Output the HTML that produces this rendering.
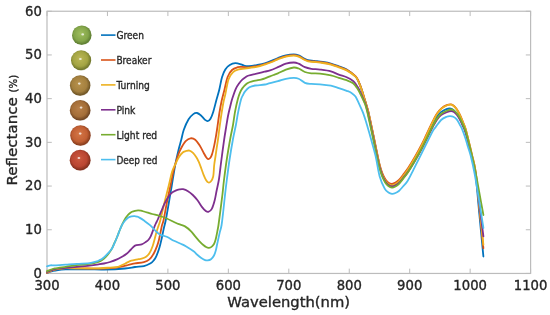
<!DOCTYPE html>
<html><head><meta charset="utf-8"><style>
html,body{margin:0;padding:0;background:#fff;width:550px;height:315px;overflow:hidden}
svg{display:block}
</style></head><body>
<svg width="550" height="315" viewBox="0 0 550 315">
<defs><radialGradient id="t0" cx="0.47" cy="0.45" r="0.56" fx="0.44" fy="0.4"><stop offset="0" stop-color="#9fbe5e"/><stop offset="0.65" stop-color="#84a64a"/><stop offset="0.92" stop-color="#5e7e32"/><stop offset="1" stop-color="#5e7e32" stop-opacity="0.6"/></radialGradient><radialGradient id="t1" cx="0.47" cy="0.45" r="0.56" fx="0.44" fy="0.4"><stop offset="0" stop-color="#bcb858"/><stop offset="0.65" stop-color="#a3a442"/><stop offset="0.92" stop-color="#72782c"/><stop offset="1" stop-color="#72782c" stop-opacity="0.6"/></radialGradient><radialGradient id="t2" cx="0.47" cy="0.45" r="0.56" fx="0.44" fy="0.4"><stop offset="0" stop-color="#b8924c"/><stop offset="0.65" stop-color="#a4803f"/><stop offset="0.92" stop-color="#705626"/><stop offset="1" stop-color="#705626" stop-opacity="0.6"/></radialGradient><radialGradient id="t3" cx="0.47" cy="0.45" r="0.56" fx="0.44" fy="0.4"><stop offset="0" stop-color="#b8804a"/><stop offset="0.65" stop-color="#a46e38"/><stop offset="0.92" stop-color="#704624"/><stop offset="1" stop-color="#704624" stop-opacity="0.6"/></radialGradient><radialGradient id="t4" cx="0.47" cy="0.45" r="0.56" fx="0.44" fy="0.4"><stop offset="0" stop-color="#d47646"/><stop offset="0.65" stop-color="#c26034"/><stop offset="0.92" stop-color="#8a3e1e"/><stop offset="1" stop-color="#8a3e1e" stop-opacity="0.6"/></radialGradient><radialGradient id="t5" cx="0.47" cy="0.45" r="0.56" fx="0.44" fy="0.4"><stop offset="0" stop-color="#cc5a40"/><stop offset="0.65" stop-color="#ba4632"/><stop offset="0.92" stop-color="#82301e"/><stop offset="1" stop-color="#82301e" stop-opacity="0.6"/></radialGradient><filter id="bl2" x="-0.3" y="-0.3" width="1.6" height="1.6"><feGaussianBlur stdDeviation="0.45"/></filter></defs>
<rect width="550" height="315" fill="#fff"/>
<rect x="47.00" y="11.25" width="483.60" height="262.20" fill="none" stroke="#bcbcbc" stroke-width="1.2"/>
<line x1="47.00" y1="273.45" x2="47.00" y2="268.65" stroke="#bcbcbc" stroke-width="1"/>
<line x1="47.00" y1="11.25" x2="47.00" y2="16.05" stroke="#bcbcbc" stroke-width="1"/>
<line x1="107.45" y1="273.45" x2="107.45" y2="268.65" stroke="#bcbcbc" stroke-width="1"/>
<line x1="107.45" y1="11.25" x2="107.45" y2="16.05" stroke="#bcbcbc" stroke-width="1"/>
<line x1="167.90" y1="273.45" x2="167.90" y2="268.65" stroke="#bcbcbc" stroke-width="1"/>
<line x1="167.90" y1="11.25" x2="167.90" y2="16.05" stroke="#bcbcbc" stroke-width="1"/>
<line x1="228.35" y1="273.45" x2="228.35" y2="268.65" stroke="#bcbcbc" stroke-width="1"/>
<line x1="228.35" y1="11.25" x2="228.35" y2="16.05" stroke="#bcbcbc" stroke-width="1"/>
<line x1="288.80" y1="273.45" x2="288.80" y2="268.65" stroke="#bcbcbc" stroke-width="1"/>
<line x1="288.80" y1="11.25" x2="288.80" y2="16.05" stroke="#bcbcbc" stroke-width="1"/>
<line x1="349.25" y1="273.45" x2="349.25" y2="268.65" stroke="#bcbcbc" stroke-width="1"/>
<line x1="349.25" y1="11.25" x2="349.25" y2="16.05" stroke="#bcbcbc" stroke-width="1"/>
<line x1="409.70" y1="273.45" x2="409.70" y2="268.65" stroke="#bcbcbc" stroke-width="1"/>
<line x1="409.70" y1="11.25" x2="409.70" y2="16.05" stroke="#bcbcbc" stroke-width="1"/>
<line x1="470.15" y1="273.45" x2="470.15" y2="268.65" stroke="#bcbcbc" stroke-width="1"/>
<line x1="470.15" y1="11.25" x2="470.15" y2="16.05" stroke="#bcbcbc" stroke-width="1"/>
<line x1="530.60" y1="273.45" x2="530.60" y2="268.65" stroke="#bcbcbc" stroke-width="1"/>
<line x1="530.60" y1="11.25" x2="530.60" y2="16.05" stroke="#bcbcbc" stroke-width="1"/>
<line x1="47.00" y1="273.45" x2="51.80" y2="273.45" stroke="#bcbcbc" stroke-width="1"/>
<line x1="530.60" y1="273.45" x2="525.80" y2="273.45" stroke="#bcbcbc" stroke-width="1"/>
<line x1="47.00" y1="229.75" x2="51.80" y2="229.75" stroke="#bcbcbc" stroke-width="1"/>
<line x1="530.60" y1="229.75" x2="525.80" y2="229.75" stroke="#bcbcbc" stroke-width="1"/>
<line x1="47.00" y1="186.05" x2="51.80" y2="186.05" stroke="#bcbcbc" stroke-width="1"/>
<line x1="530.60" y1="186.05" x2="525.80" y2="186.05" stroke="#bcbcbc" stroke-width="1"/>
<line x1="47.00" y1="142.35" x2="51.80" y2="142.35" stroke="#bcbcbc" stroke-width="1"/>
<line x1="530.60" y1="142.35" x2="525.80" y2="142.35" stroke="#bcbcbc" stroke-width="1"/>
<line x1="47.00" y1="98.65" x2="51.80" y2="98.65" stroke="#bcbcbc" stroke-width="1"/>
<line x1="530.60" y1="98.65" x2="525.80" y2="98.65" stroke="#bcbcbc" stroke-width="1"/>
<line x1="47.00" y1="54.95" x2="51.80" y2="54.95" stroke="#bcbcbc" stroke-width="1"/>
<line x1="530.60" y1="54.95" x2="525.80" y2="54.95" stroke="#bcbcbc" stroke-width="1"/>
<line x1="47.00" y1="11.25" x2="51.80" y2="11.25" stroke="#bcbcbc" stroke-width="1"/>
<line x1="530.60" y1="11.25" x2="525.80" y2="11.25" stroke="#bcbcbc" stroke-width="1"/>
<text x="47.00" y="289.70" font-family="DejaVu Sans, sans-serif" stroke="#262626" stroke-width="0.35" font-size="13.6" fill="#262626" text-anchor="middle" textLength="25.20" lengthAdjust="spacingAndGlyphs">300</text>
<text x="107.45" y="289.70" font-family="DejaVu Sans, sans-serif" stroke="#262626" stroke-width="0.35" font-size="13.6" fill="#262626" text-anchor="middle" textLength="25.20" lengthAdjust="spacingAndGlyphs">400</text>
<text x="167.90" y="289.70" font-family="DejaVu Sans, sans-serif" stroke="#262626" stroke-width="0.35" font-size="13.6" fill="#262626" text-anchor="middle" textLength="25.20" lengthAdjust="spacingAndGlyphs">500</text>
<text x="228.35" y="289.70" font-family="DejaVu Sans, sans-serif" stroke="#262626" stroke-width="0.35" font-size="13.6" fill="#262626" text-anchor="middle" textLength="25.20" lengthAdjust="spacingAndGlyphs">600</text>
<text x="288.80" y="289.70" font-family="DejaVu Sans, sans-serif" stroke="#262626" stroke-width="0.35" font-size="13.6" fill="#262626" text-anchor="middle" textLength="25.20" lengthAdjust="spacingAndGlyphs">700</text>
<text x="349.25" y="289.70" font-family="DejaVu Sans, sans-serif" stroke="#262626" stroke-width="0.35" font-size="13.6" fill="#262626" text-anchor="middle" textLength="25.20" lengthAdjust="spacingAndGlyphs">800</text>
<text x="409.70" y="289.70" font-family="DejaVu Sans, sans-serif" stroke="#262626" stroke-width="0.35" font-size="13.6" fill="#262626" text-anchor="middle" textLength="25.20" lengthAdjust="spacingAndGlyphs">900</text>
<text x="470.15" y="289.70" font-family="DejaVu Sans, sans-serif" stroke="#262626" stroke-width="0.35" font-size="13.6" fill="#262626" text-anchor="middle" textLength="33.60" lengthAdjust="spacingAndGlyphs">1000</text>
<text x="530.60" y="289.70" font-family="DejaVu Sans, sans-serif" stroke="#262626" stroke-width="0.35" font-size="13.6" fill="#262626" text-anchor="middle" textLength="33.60" lengthAdjust="spacingAndGlyphs">1100</text>
<text x="41.90" y="277.85" font-family="DejaVu Sans, sans-serif" stroke="#262626" stroke-width="0.35" font-size="13.6" fill="#262626" text-anchor="end" textLength="8.40" lengthAdjust="spacingAndGlyphs">0</text>
<text x="41.90" y="234.15" font-family="DejaVu Sans, sans-serif" stroke="#262626" stroke-width="0.35" font-size="13.6" fill="#262626" text-anchor="end" textLength="16.80" lengthAdjust="spacingAndGlyphs">10</text>
<text x="41.90" y="190.45" font-family="DejaVu Sans, sans-serif" stroke="#262626" stroke-width="0.35" font-size="13.6" fill="#262626" text-anchor="end" textLength="16.80" lengthAdjust="spacingAndGlyphs">20</text>
<text x="41.90" y="146.75" font-family="DejaVu Sans, sans-serif" stroke="#262626" stroke-width="0.35" font-size="13.6" fill="#262626" text-anchor="end" textLength="16.80" lengthAdjust="spacingAndGlyphs">30</text>
<text x="41.90" y="103.05" font-family="DejaVu Sans, sans-serif" stroke="#262626" stroke-width="0.35" font-size="13.6" fill="#262626" text-anchor="end" textLength="16.80" lengthAdjust="spacingAndGlyphs">40</text>
<text x="41.90" y="59.35" font-family="DejaVu Sans, sans-serif" stroke="#262626" stroke-width="0.35" font-size="13.6" fill="#262626" text-anchor="end" textLength="16.80" lengthAdjust="spacingAndGlyphs">50</text>
<text x="41.90" y="15.65" font-family="DejaVu Sans, sans-serif" stroke="#262626" stroke-width="0.35" font-size="13.6" fill="#262626" text-anchor="end" textLength="16.80" lengthAdjust="spacingAndGlyphs">60</text>
<text x="227.30" y="307.40" font-family="DejaVu Sans, sans-serif" stroke="#262626" stroke-width="0.35" font-size="14.5" fill="#262626" textLength="122.80" lengthAdjust="spacingAndGlyphs">Wavelength(nm)</text>
<text transform="translate(17.20,185.60) rotate(-90)" font-family="DejaVu Sans, sans-serif" stroke="#262626" stroke-width="0.35" font-size="14.5" fill="#262626"><tspan textLength="88.5" lengthAdjust="spacingAndGlyphs">Reflectance</tspan> <tspan font-size="10.2">(%)</tspan></text>
<path d="M47.00 273.00 C47.67 272.75 49.67 271.90 51.00 271.50 C52.33 271.10 52.53 270.95 55.00 270.60 C57.47 270.25 60.37 269.62 65.80 269.40 C71.23 269.18 81.23 269.28 87.60 269.30 C93.97 269.32 97.77 269.63 104.00 269.50 C110.23 269.37 119.83 268.92 125.00 268.50 C130.17 268.08 131.85 267.40 135.00 267.00 C138.15 266.60 141.30 266.72 143.90 266.10 C146.50 265.48 148.98 264.23 150.60 263.30 C152.22 262.37 152.68 261.60 153.60 260.50 C154.52 259.40 155.13 258.82 156.10 256.70 C157.07 254.58 158.45 250.92 159.40 247.80 C160.35 244.68 161.03 241.38 161.80 238.00 C162.57 234.62 163.33 230.50 164.00 227.50 C164.67 224.50 165.00 224.08 165.80 220.00 C166.60 215.92 167.82 208.67 168.80 203.00 C169.78 197.33 170.63 192.33 171.70 186.00 C172.77 179.67 174.07 171.00 175.20 165.00 C176.33 159.00 177.50 154.17 178.50 150.00 C179.50 145.83 180.32 143.37 181.20 140.00 C182.08 136.63 182.57 133.25 183.80 129.80 C185.03 126.35 187.02 121.92 188.60 119.30 C190.18 116.68 191.88 115.15 193.30 114.10 C194.72 113.05 195.82 112.77 197.10 113.00 C198.38 113.23 199.72 114.40 201.00 115.50 C202.28 116.60 203.70 118.65 204.80 119.60 C205.90 120.55 206.65 121.35 207.60 121.20 C208.55 121.05 209.55 120.28 210.50 118.70 C211.45 117.12 212.32 114.82 213.30 111.70 C214.28 108.58 215.42 103.62 216.40 100.00 C217.38 96.38 218.27 93.80 219.20 90.00 C220.13 86.20 220.98 80.63 222.00 77.20 C223.02 73.77 224.00 71.43 225.30 69.40 C226.60 67.37 228.13 66.03 229.80 65.00 C231.47 63.97 233.45 63.32 235.30 63.20 C237.15 63.08 239.32 63.85 240.90 64.30 C242.48 64.75 243.48 65.58 244.80 65.90 C246.12 66.22 246.82 66.33 248.80 66.20 C250.78 66.07 254.05 65.57 256.70 65.10 C259.35 64.63 262.15 64.17 264.70 63.40 C267.25 62.63 269.80 61.40 272.00 60.50 C274.20 59.60 275.58 58.87 277.90 58.00 C280.22 57.13 283.25 55.92 285.90 55.30 C288.55 54.68 291.68 54.30 293.80 54.30 C295.92 54.30 297.02 54.68 298.60 55.30 C300.18 55.92 301.72 57.20 303.30 58.00 C304.88 58.80 306.25 59.62 308.10 60.10 C309.95 60.58 311.93 60.58 314.40 60.90 C316.87 61.22 320.15 61.55 322.90 62.00 C325.65 62.45 328.25 62.88 330.90 63.60 C333.55 64.32 336.17 65.33 338.80 66.30 C341.43 67.27 343.92 67.70 346.70 69.40 C349.48 71.10 353.50 74.40 355.50 76.50 C357.50 78.60 357.64 79.74 358.69 82.00 C359.74 84.26 360.87 87.38 361.78 90.05 C362.70 92.72 363.44 95.61 364.18 98.02 C364.91 100.42 365.51 102.22 366.17 104.47 C366.84 106.73 367.53 109.01 368.17 111.53 C368.80 114.05 369.10 115.56 369.96 119.58 C370.83 123.61 372.11 129.64 373.35 135.68 C374.60 141.71 376.34 150.59 377.44 155.79 C378.54 160.99 379.07 163.64 379.93 166.86 C380.80 170.09 381.71 172.86 382.63 175.14 C383.54 177.41 384.46 179.07 385.42 180.52 C386.38 181.96 387.33 183.05 388.41 183.80 C389.49 184.55 390.74 184.97 391.90 185.00 C393.07 185.03 394.23 184.54 395.39 183.96 C396.56 183.38 397.64 182.73 398.89 181.53 C400.13 180.32 401.33 178.67 402.87 176.71 C404.42 174.75 406.17 172.71 408.16 169.76 C410.16 166.80 412.62 162.76 414.84 158.97 C417.07 155.17 419.70 150.43 421.53 146.99 C423.35 143.54 424.44 141.13 425.81 138.30 C427.19 135.47 428.56 132.55 429.80 130.00 C431.05 127.45 432.13 125.17 433.30 122.97 C434.46 120.78 435.52 118.65 436.79 116.85 C438.05 115.05 439.26 113.45 440.88 112.16 C442.49 110.86 444.80 109.65 446.46 109.05 C448.12 108.46 449.64 108.37 450.85 108.60 C452.06 108.82 452.76 109.60 453.74 110.42 C454.72 111.24 455.74 112.21 456.73 113.53 C457.73 114.85 458.73 116.48 459.73 118.33 C460.72 120.18 461.80 122.60 462.72 124.63 C463.63 126.67 464.35 127.92 465.21 130.55 C466.08 133.18 466.84 136.26 467.90 140.42 C468.97 144.58 470.35 150.07 471.60 155.50 C472.85 160.93 474.10 163.12 475.40 173.00 C476.70 182.88 478.07 200.83 479.40 214.75 C480.73 228.67 482.73 249.54 483.40 256.50" fill="none" stroke="#0072BD" stroke-width="1.8" stroke-linejoin="round" stroke-linecap="round"/>
<path d="M47.00 272.80 C47.67 272.50 49.68 271.53 51.00 271.00 C52.32 270.47 52.43 270.07 54.90 269.60 C57.37 269.13 62.17 268.42 65.80 268.20 C69.43 267.98 73.07 268.25 76.70 268.30 C80.33 268.35 83.97 268.43 87.60 268.50 C91.23 268.57 94.77 268.77 98.50 268.70 C102.23 268.63 106.80 268.33 110.00 268.10 C113.20 267.87 115.53 267.60 117.70 267.30 C119.87 267.00 121.28 266.68 123.00 266.30 C124.72 265.92 126.60 265.37 128.00 265.00 C129.40 264.63 130.23 264.38 131.40 264.10 C132.57 263.82 132.92 263.62 135.00 263.30 C137.08 262.98 141.50 262.85 143.90 262.20 C146.30 261.55 147.73 260.88 149.40 259.40 C151.07 257.92 152.60 255.60 153.90 253.30 C155.20 251.00 156.37 247.82 157.20 245.60 C158.03 243.38 158.35 242.18 158.90 240.00 C159.45 237.82 160.00 234.90 160.50 232.50 C161.00 230.10 161.38 227.68 161.90 225.60 C162.42 223.52 162.75 223.93 163.60 220.00 C164.45 216.07 165.83 207.83 167.00 202.00 C168.17 196.17 169.60 189.83 170.60 185.00 C171.60 180.17 172.23 176.42 173.00 173.00 C173.77 169.58 174.28 167.67 175.20 164.50 C176.12 161.33 177.45 156.83 178.50 154.00 C179.55 151.17 180.30 149.63 181.50 147.50 C182.70 145.37 184.20 142.73 185.70 141.20 C187.20 139.67 188.92 138.55 190.50 138.30 C192.08 138.05 193.62 138.42 195.20 139.70 C196.78 140.98 198.60 143.83 200.00 146.00 C201.40 148.17 202.60 150.87 203.60 152.70 C204.60 154.53 205.25 155.93 206.00 157.00 C206.75 158.07 207.40 158.93 208.10 159.10 C208.80 159.27 209.55 158.78 210.20 158.00 C210.85 157.22 211.33 156.47 212.00 154.40 C212.67 152.33 213.55 148.55 214.20 145.60 C214.85 142.65 215.37 139.80 215.90 136.70 C216.43 133.60 216.82 130.95 217.40 127.00 C217.98 123.05 218.70 117.33 219.40 113.00 C220.10 108.67 220.77 104.83 221.60 101.00 C222.43 97.17 223.40 94.00 224.40 90.00 C225.40 86.00 226.33 80.33 227.60 77.00 C228.87 73.67 230.33 71.63 232.00 70.00 C233.67 68.37 235.93 67.72 237.60 67.20 C239.27 66.68 240.13 66.87 242.00 66.90 C243.87 66.93 246.35 67.53 248.80 67.40 C251.25 67.27 254.05 66.67 256.70 66.10 C259.35 65.53 262.15 64.77 264.70 64.00 C267.25 63.23 269.80 62.37 272.00 61.50 C274.20 60.63 275.58 59.70 277.90 58.80 C280.22 57.90 283.25 56.72 285.90 56.10 C288.55 55.48 291.68 55.10 293.80 55.10 C295.92 55.10 297.02 55.48 298.60 56.10 C300.18 56.72 301.72 58.00 303.30 58.80 C304.88 59.60 306.25 60.45 308.10 60.90 C309.95 61.35 311.93 61.23 314.40 61.50 C316.87 61.77 320.15 62.07 322.90 62.50 C325.65 62.93 328.25 63.38 330.90 64.10 C333.55 64.82 336.17 65.83 338.80 66.80 C341.43 67.77 343.92 68.33 346.70 69.90 C349.48 71.47 353.50 74.23 355.50 76.20 C357.50 78.17 357.65 79.45 358.70 81.70 C359.75 83.95 360.88 87.05 361.80 89.70 C362.72 92.35 363.47 95.22 364.20 97.60 C364.93 99.98 365.53 101.77 366.20 104.00 C366.87 106.23 367.57 108.50 368.20 111.00 C368.83 113.50 369.13 115.00 370.00 119.00 C370.87 123.00 372.15 129.00 373.40 135.00 C374.65 141.00 376.40 149.83 377.50 155.00 C378.60 160.17 379.13 162.80 380.00 166.00 C380.87 169.20 381.78 171.95 382.70 174.20 C383.62 176.45 384.53 178.08 385.50 179.50 C386.47 180.92 387.42 181.98 388.50 182.70 C389.58 183.42 390.83 183.82 392.00 183.80 C393.17 183.78 394.33 183.23 395.50 182.60 C396.67 181.97 397.75 181.27 399.00 180.00 C400.25 178.73 401.45 177.03 403.00 175.00 C404.55 172.97 406.30 170.85 408.30 167.80 C410.30 164.75 412.77 160.60 415.00 156.70 C417.23 152.80 419.87 147.93 421.70 144.40 C423.53 140.87 424.62 138.40 426.00 135.50 C427.38 132.60 428.75 129.62 430.00 127.00 C431.25 124.38 432.33 122.05 433.50 119.80 C434.67 117.55 435.73 115.37 437.00 113.50 C438.27 111.63 439.48 109.98 441.10 108.60 C442.72 107.22 445.03 105.90 446.70 105.20 C448.37 104.50 449.88 104.27 451.10 104.40 C452.32 104.53 453.02 105.15 454.00 106.00 C454.98 106.85 456.00 108.00 457.00 109.50 C458.00 111.00 459.00 112.92 460.00 115.00 C461.00 117.08 462.08 119.75 463.00 122.00 C463.92 124.25 464.63 125.67 465.50 128.50 C466.37 131.33 467.13 134.67 468.20 139.00 C469.27 143.33 470.65 149.00 471.90 154.50 C473.15 160.00 474.43 162.72 475.70 172.00 C476.97 181.28 478.27 197.43 479.55 210.15 C480.83 222.87 482.76 241.94 483.40 248.30" fill="none" stroke="#D95319" stroke-width="1.8" stroke-linejoin="round" stroke-linecap="round"/>
<path d="M47.00 272.50 C47.67 272.22 49.68 271.33 51.00 270.80 C52.32 270.27 52.43 269.73 54.90 269.30 C57.37 268.87 62.17 268.35 65.80 268.20 C69.43 268.05 71.25 268.38 76.70 268.40 C82.15 268.42 92.95 268.43 98.50 268.30 C104.05 268.17 106.80 267.85 110.00 267.60 C113.20 267.35 115.87 267.15 117.70 266.80 C119.53 266.45 119.78 266.02 121.00 265.50 C122.22 264.98 123.83 264.27 125.00 263.70 C126.17 263.13 126.93 262.60 128.00 262.10 C129.07 261.60 130.23 261.08 131.40 260.70 C132.57 260.32 133.82 260.05 135.00 259.80 C136.18 259.55 137.38 259.38 138.50 259.20 C139.62 259.02 140.43 259.12 141.70 258.70 C142.97 258.28 144.82 257.60 146.10 256.70 C147.38 255.80 148.32 255.05 149.40 253.30 C150.48 251.55 151.70 248.67 152.60 246.20 C153.50 243.73 154.10 241.03 154.80 238.50 C155.50 235.97 156.17 233.15 156.80 231.00 C157.43 228.85 158.00 227.43 158.60 225.60 C159.20 223.77 159.42 223.85 160.40 220.00 C161.38 216.15 163.08 208.33 164.50 202.50 C165.92 196.67 167.65 190.08 168.90 185.00 C170.15 179.92 170.95 175.42 172.00 172.00 C173.05 168.58 174.03 167.00 175.20 164.50 C176.37 162.00 177.70 159.03 179.00 157.00 C180.30 154.97 181.78 153.32 183.00 152.30 C184.22 151.28 185.22 151.18 186.30 150.90 C187.38 150.62 188.38 150.28 189.50 150.60 C190.62 150.92 191.83 151.65 193.00 152.80 C194.17 153.95 195.52 155.93 196.50 157.50 C197.48 159.07 198.10 160.37 198.90 162.20 C199.70 164.03 200.52 166.38 201.30 168.50 C202.08 170.62 202.82 172.98 203.60 174.90 C204.38 176.82 205.20 178.73 206.00 180.00 C206.80 181.27 207.60 182.25 208.40 182.50 C209.20 182.75 210.00 182.50 210.80 181.50 C211.60 180.50 212.63 179.25 213.20 176.50 C213.77 173.75 213.83 168.25 214.20 165.00 C214.57 161.75 215.03 159.50 215.40 157.00 C215.77 154.50 215.95 153.02 216.40 150.00 C216.85 146.98 217.63 142.23 218.10 138.90 C218.57 135.57 218.72 133.65 219.20 130.00 C219.68 126.35 220.32 121.50 221.00 117.00 C221.68 112.50 222.58 106.75 223.30 103.00 C224.02 99.25 224.43 98.42 225.30 94.50 C226.17 90.58 227.20 83.22 228.50 79.50 C229.80 75.78 231.40 73.88 233.10 72.20 C234.80 70.52 237.13 69.95 238.70 69.40 C240.27 68.85 240.82 69.13 242.50 68.90 C244.18 68.67 246.43 68.33 248.80 68.00 C251.17 67.67 254.05 67.47 256.70 66.90 C259.35 66.33 262.15 65.42 264.70 64.60 C267.25 63.78 269.80 62.88 272.00 62.00 C274.20 61.12 275.58 60.20 277.90 59.30 C280.22 58.40 283.25 57.22 285.90 56.60 C288.55 55.98 291.68 55.60 293.80 55.60 C295.92 55.60 297.02 55.98 298.60 56.60 C300.18 57.22 301.72 58.50 303.30 59.30 C304.88 60.10 306.25 60.95 308.10 61.40 C309.95 61.85 311.93 61.73 314.40 62.00 C316.87 62.27 320.15 62.57 322.90 63.00 C325.65 63.43 328.25 63.88 330.90 64.60 C333.55 65.32 336.17 66.33 338.80 67.30 C341.43 68.27 343.92 68.83 346.70 70.40 C349.48 71.97 353.50 74.73 355.50 76.70 C357.50 78.67 357.65 79.94 358.70 82.20 C359.75 84.46 360.88 87.58 361.80 90.26 C362.72 92.93 363.47 95.82 364.20 98.23 C364.93 100.64 365.53 102.44 366.20 104.69 C366.87 106.95 367.57 109.24 368.20 111.76 C368.83 114.28 369.13 115.79 370.00 119.81 C370.87 123.84 372.15 129.88 373.40 135.92 C374.65 141.96 376.40 150.85 377.50 156.05 C378.60 161.25 379.13 163.90 380.00 167.12 C380.87 170.35 381.78 173.13 382.70 175.41 C383.62 177.69 384.53 179.35 385.50 180.80 C386.47 182.24 387.42 183.34 388.50 184.09 C389.58 184.84 390.83 185.31 392.00 185.30 C393.17 185.29 394.33 184.69 395.50 184.04 C396.67 183.38 397.75 182.66 399.00 181.38 C400.25 180.09 401.45 178.36 403.00 176.30 C404.55 174.24 406.30 172.09 408.30 169.01 C410.30 165.92 412.77 161.73 415.00 157.79 C417.23 153.85 419.87 148.93 421.70 145.35 C423.53 141.78 424.62 139.28 426.00 136.34 C427.38 133.40 428.75 130.38 430.00 127.73 C431.25 125.08 432.33 122.72 433.50 120.44 C434.67 118.16 435.73 115.94 437.00 114.04 C438.27 112.14 439.48 110.46 441.10 109.03 C442.72 107.61 445.03 106.22 446.70 105.50 C448.37 104.78 449.88 104.57 451.10 104.70 C452.32 104.83 453.02 105.45 454.00 106.30 C454.98 107.15 456.00 108.30 457.00 109.80 C458.00 111.30 459.00 113.22 460.00 115.30 C461.00 117.38 462.08 120.05 463.00 122.30 C463.92 124.55 464.63 125.97 465.50 128.80 C466.37 131.63 467.13 134.97 468.20 139.30 C469.27 143.63 470.65 149.30 471.90 154.80 C473.15 160.30 474.43 163.34 475.70 172.30 C476.97 181.26 478.27 196.47 479.55 208.55 C480.83 220.63 482.76 238.76 483.40 244.80" fill="none" stroke="#EDB120" stroke-width="1.8" stroke-linejoin="round" stroke-linecap="round"/>
<path d="M47.00 272.00 C47.67 271.75 49.68 270.97 51.00 270.50 C52.32 270.03 52.43 269.63 54.90 269.20 C57.37 268.77 62.17 268.30 65.80 267.90 C69.43 267.50 73.07 267.13 76.70 266.80 C80.33 266.47 83.97 266.30 87.60 265.90 C91.23 265.50 95.77 264.80 98.50 264.40 C101.23 264.00 102.08 263.90 104.00 263.50 C105.92 263.10 107.83 262.68 110.00 262.00 C112.17 261.32 115.00 260.27 117.00 259.40 C119.00 258.53 120.40 257.73 122.00 256.80 C123.60 255.87 125.18 254.93 126.60 253.80 C128.02 252.67 129.10 251.37 130.50 250.00 C131.90 248.63 133.13 246.53 135.00 245.60 C136.87 244.67 139.85 245.05 141.70 244.40 C143.55 243.75 145.00 242.43 146.10 241.70 C147.20 240.97 147.52 240.93 148.30 240.00 C149.08 239.07 149.92 237.95 150.80 236.10 C151.68 234.25 152.77 231.00 153.60 228.90 C154.43 226.80 155.10 225.07 155.80 223.50 C156.50 221.93 156.92 221.47 157.80 219.50 C158.68 217.53 160.00 214.30 161.10 211.70 C162.20 209.10 163.28 206.22 164.40 203.90 C165.52 201.58 166.68 199.57 167.80 197.80 C168.92 196.03 169.80 194.50 171.10 193.30 C172.40 192.10 174.20 191.25 175.60 190.60 C177.00 189.95 178.25 189.63 179.50 189.40 C180.75 189.17 181.68 188.90 183.10 189.20 C184.52 189.50 186.38 190.23 188.00 191.20 C189.62 192.17 191.22 193.48 192.80 195.00 C194.38 196.52 195.92 198.23 197.50 200.30 C199.08 202.37 200.97 205.65 202.30 207.40 C203.63 209.15 204.50 210.05 205.50 210.80 C206.50 211.55 207.25 212.22 208.30 211.90 C209.35 211.58 210.73 210.83 211.80 208.90 C212.87 206.97 213.90 203.32 214.70 200.30 C215.50 197.28 215.88 194.35 216.60 190.80 C217.32 187.25 218.27 183.63 219.00 179.00 C219.73 174.37 220.17 169.40 221.00 163.00 C221.83 156.60 223.17 146.43 224.00 140.60 C224.83 134.77 225.33 132.10 226.00 128.00 C226.67 123.90 227.30 119.58 228.00 116.00 C228.70 112.42 229.48 109.40 230.20 106.50 C230.92 103.60 231.35 101.58 232.30 98.60 C233.25 95.62 234.72 91.22 235.90 88.60 C237.08 85.98 238.33 84.40 239.40 82.90 C240.47 81.40 241.28 80.55 242.30 79.60 C243.32 78.65 244.42 77.88 245.50 77.20 C246.58 76.52 246.93 76.08 248.80 75.50 C250.67 74.92 254.05 74.33 256.70 73.70 C259.35 73.07 262.48 72.25 264.70 71.70 C266.92 71.15 267.80 71.15 270.00 70.40 C272.20 69.65 275.25 68.32 277.90 67.20 C280.55 66.08 283.25 64.48 285.90 63.70 C288.55 62.92 291.68 62.50 293.80 62.50 C295.92 62.50 296.75 62.92 298.60 63.70 C300.45 64.48 302.78 66.35 304.90 67.20 C307.02 68.05 308.78 68.40 311.30 68.80 C313.82 69.20 316.73 69.17 320.00 69.60 C323.27 70.03 327.77 70.57 330.90 71.40 C334.03 72.23 336.17 73.62 338.80 74.60 C341.43 75.58 344.32 76.23 346.70 77.30 C349.08 78.37 351.55 79.80 353.10 81.00 C354.65 82.20 355.00 83.08 356.00 84.50 C357.00 85.92 358.10 87.58 359.10 89.50 C360.10 91.42 360.95 93.58 362.00 96.00 C363.05 98.42 364.49 101.48 365.41 104.02 C366.32 106.55 366.81 108.65 367.47 111.21 C368.12 113.77 368.43 115.30 369.32 119.38 C370.22 123.47 371.54 129.59 372.83 135.71 C374.12 141.83 375.92 150.83 377.05 156.11 C378.19 161.38 378.74 164.06 379.63 167.35 C380.52 170.63 381.47 173.47 382.41 175.81 C383.36 178.14 384.30 179.87 385.30 181.38 C386.30 182.88 387.28 184.04 388.39 184.86 C389.51 185.68 390.82 186.22 392.00 186.30 C393.18 186.38 394.33 185.90 395.50 185.35 C396.67 184.80 397.75 184.18 399.00 183.00 C400.25 181.82 401.45 180.21 403.00 178.29 C404.55 176.36 406.30 174.37 408.30 171.46 C410.30 168.56 412.77 164.58 415.00 160.84 C417.23 157.11 419.87 152.44 421.70 149.06 C423.53 145.69 424.62 143.35 426.00 140.58 C427.38 137.81 428.75 134.96 430.00 132.46 C431.25 129.97 432.33 127.74 433.50 125.60 C434.67 123.46 435.73 121.38 437.00 119.64 C438.27 117.89 439.48 116.36 441.10 115.13 C442.72 113.91 445.03 112.96 446.70 112.27 C448.37 111.59 449.88 111.04 451.10 111.01 C452.32 110.97 453.02 111.39 454.00 112.05 C454.98 112.72 456.00 113.67 457.00 114.98 C458.00 116.29 459.00 118.02 460.00 119.91 C461.00 121.80 462.08 124.26 463.00 126.34 C463.92 128.41 464.63 129.69 465.50 132.36 C466.37 135.03 467.13 138.15 468.20 142.34 C469.27 146.53 470.65 152.06 471.90 157.50 C473.15 162.94 474.43 166.97 475.70 175.00 C476.97 183.03 478.27 195.47 479.55 205.70 C480.83 215.93 482.76 231.28 483.40 236.40" fill="none" stroke="#7E2F8E" stroke-width="1.8" stroke-linejoin="round" stroke-linecap="round"/>
<path d="M47.00 271.20 C47.67 270.93 49.68 270.07 51.00 269.60 C52.32 269.13 52.43 268.87 54.90 268.40 C57.37 267.93 62.17 267.33 65.80 266.80 C69.43 266.27 73.07 265.65 76.70 265.20 C80.33 264.75 84.88 264.43 87.60 264.10 C90.32 263.77 91.18 263.57 93.00 263.20 C94.82 262.83 96.97 262.45 98.50 261.90 C100.03 261.35 100.98 260.73 102.20 259.90 C103.42 259.07 104.60 258.12 105.80 256.90 C107.00 255.68 108.32 254.12 109.40 252.60 C110.48 251.08 111.40 249.53 112.30 247.80 C113.20 246.07 113.97 244.08 114.80 242.20 C115.63 240.32 116.47 238.53 117.30 236.50 C118.13 234.47 118.98 232.02 119.80 230.00 C120.62 227.98 121.40 226.13 122.20 224.40 C123.00 222.67 123.78 221.00 124.60 219.60 C125.42 218.20 126.28 217.02 127.10 216.00 C127.92 214.98 128.68 214.20 129.50 213.50 C130.32 212.80 131.08 212.25 132.00 211.80 C132.92 211.35 133.98 211.03 135.00 210.80 C136.02 210.57 137.10 210.42 138.10 210.40 C139.10 210.38 140.02 210.52 141.00 210.70 C141.98 210.88 142.83 211.17 144.00 211.50 C145.17 211.83 146.63 212.28 148.00 212.70 C149.37 213.12 150.20 213.45 152.20 214.00 C154.20 214.55 157.58 215.25 160.00 216.00 C162.42 216.75 164.37 217.50 166.70 218.50 C169.03 219.50 171.97 221.05 174.00 222.00 C176.03 222.95 177.07 223.47 178.90 224.20 C180.73 224.93 182.97 225.22 185.00 226.40 C187.03 227.58 189.43 229.67 191.10 231.30 C192.77 232.93 193.68 234.62 195.00 236.20 C196.32 237.78 197.62 239.33 199.00 240.80 C200.38 242.27 202.05 243.92 203.30 245.00 C204.55 246.08 205.55 246.83 206.50 247.30 C207.45 247.77 208.12 247.92 209.00 247.80 C209.88 247.68 210.97 247.23 211.80 246.60 C212.63 245.97 213.38 245.10 214.00 244.00 C214.62 242.90 215.07 241.47 215.50 240.00 C215.93 238.53 216.25 236.87 216.60 235.20 C216.95 233.53 217.28 231.70 217.60 230.00 C217.92 228.30 218.02 228.37 218.50 225.00 C218.98 221.63 219.83 214.97 220.50 209.80 C221.17 204.63 221.92 198.97 222.50 194.00 C223.08 189.03 223.25 186.00 224.00 180.00 C224.75 174.00 225.93 165.00 227.00 158.00 C228.07 151.00 229.40 143.50 230.40 138.00 C231.40 132.50 232.22 129.43 233.00 125.00 C233.78 120.57 234.27 115.80 235.10 111.40 C235.93 107.00 237.18 101.73 238.00 98.60 C238.82 95.47 239.28 94.30 240.00 92.60 C240.72 90.90 241.20 89.87 242.30 88.40 C243.40 86.93 245.32 84.87 246.60 83.80 C247.88 82.73 248.93 82.45 250.00 82.00 C251.07 81.55 251.83 81.37 253.00 81.10 C254.17 80.83 255.67 80.65 257.00 80.40 C258.33 80.15 259.67 79.93 261.00 79.60 C262.33 79.27 263.50 78.95 265.00 78.40 C266.50 77.85 268.50 76.90 270.00 76.30 C271.50 75.70 272.68 75.28 274.00 74.80 C275.32 74.32 275.92 74.27 277.90 73.40 C279.88 72.53 283.25 70.58 285.90 69.60 C288.55 68.62 291.68 67.68 293.80 67.50 C295.92 67.32 296.75 67.75 298.60 68.50 C300.45 69.25 302.78 71.20 304.90 72.00 C307.02 72.80 308.78 73.03 311.30 73.30 C313.82 73.57 316.73 73.25 320.00 73.60 C323.27 73.95 327.77 74.70 330.90 75.40 C334.03 76.10 336.17 77.00 338.80 77.80 C341.43 78.60 344.32 79.28 346.70 80.20 C349.08 81.12 351.37 81.98 353.10 83.30 C354.83 84.62 355.78 86.10 357.10 88.10 C358.42 90.10 359.68 92.64 361.00 95.30 C362.32 97.95 363.99 101.36 365.01 104.03 C366.03 106.70 366.44 108.73 367.10 111.33 C367.76 113.92 368.08 115.47 368.98 119.60 C369.89 123.73 371.23 129.92 372.54 136.11 C373.85 142.30 375.68 151.39 376.83 156.72 C377.98 162.06 378.54 164.77 379.45 168.10 C380.35 171.43 381.31 174.32 382.27 176.70 C383.23 179.09 384.19 180.86 385.20 182.43 C386.21 183.99 387.21 185.20 388.34 186.07 C389.47 186.95 390.80 187.63 392.00 187.70 C393.20 187.77 394.34 187.12 395.51 186.49 C396.68 185.85 397.76 185.15 399.02 183.88 C400.27 182.60 401.47 180.90 403.03 178.86 C404.58 176.82 406.34 174.70 408.34 171.64 C410.35 168.58 412.82 164.41 415.06 160.52 C417.30 156.63 419.94 151.78 421.78 148.31 C423.61 144.84 424.70 142.50 426.09 139.69 C427.47 136.87 428.84 133.98 430.10 131.44 C431.35 128.91 432.44 126.64 433.61 124.47 C434.78 122.29 435.85 120.18 437.12 118.39 C438.39 116.61 439.61 115.04 441.23 113.76 C442.85 112.48 445.17 111.43 446.84 110.72 C448.51 110.01 450.03 109.51 451.25 109.49 C452.47 109.48 453.17 109.93 454.16 110.62 C455.14 111.31 456.16 112.29 457.17 113.63 C458.17 114.96 459.17 116.72 460.17 118.64 C461.18 120.56 462.26 123.05 463.18 125.15 C464.10 127.25 464.82 128.54 465.69 131.24 C466.56 133.93 467.33 137.08 468.40 141.29 C469.46 145.51 470.85 151.05 472.10 156.50 C473.35 161.95 474.64 167.67 475.90 174.00 C477.16 180.33 478.40 187.67 479.65 194.50 C480.90 201.33 482.77 211.58 483.40 215.00" fill="none" stroke="#77AC30" stroke-width="1.8" stroke-linejoin="round" stroke-linecap="round"/>
<path d="M47.00 266.30 C47.58 266.13 49.18 265.45 50.50 265.30 C51.82 265.15 52.35 265.52 54.90 265.40 C57.45 265.28 62.17 264.87 65.80 264.60 C69.43 264.33 73.07 264.02 76.70 263.80 C80.33 263.58 85.05 263.50 87.60 263.30 C90.15 263.10 90.45 262.92 92.00 262.60 C93.55 262.28 95.57 261.85 96.90 261.40 C98.23 260.95 99.12 260.35 100.00 259.90 C100.88 259.45 101.23 259.42 102.20 258.70 C103.17 257.98 104.60 256.75 105.80 255.60 C107.00 254.45 108.32 253.07 109.40 251.80 C110.48 250.53 111.40 249.55 112.30 248.00 C113.20 246.45 113.97 244.42 114.80 242.50 C115.63 240.58 116.47 238.58 117.30 236.50 C118.13 234.42 118.98 231.98 119.80 230.00 C120.62 228.02 121.30 226.18 122.20 224.60 C123.10 223.02 124.17 221.67 125.20 220.50 C126.23 219.33 127.35 218.28 128.40 217.60 C129.45 216.92 130.48 216.65 131.50 216.40 C132.52 216.15 133.58 216.07 134.50 216.10 C135.42 216.13 136.18 216.35 137.00 216.60 C137.82 216.85 138.23 216.93 139.40 217.60 C140.57 218.27 142.23 219.33 144.00 220.60 C145.77 221.87 147.88 223.30 150.00 225.20 C152.12 227.10 155.03 230.43 156.70 232.00 C158.37 233.57 158.33 233.82 160.00 234.60 C161.67 235.38 164.37 235.67 166.70 236.70 C169.03 237.73 171.57 239.58 174.00 240.80 C176.43 242.02 179.27 243.05 181.30 244.00 C183.33 244.95 184.15 245.28 186.20 246.50 C188.25 247.72 191.80 249.97 193.60 251.30 C195.40 252.63 195.78 253.43 197.00 254.50 C198.22 255.57 199.65 256.82 200.90 257.70 C202.15 258.58 203.37 259.35 204.50 259.80 C205.63 260.25 206.62 260.48 207.70 260.40 C208.78 260.32 209.95 260.12 211.00 259.30 C212.05 258.48 213.20 256.97 214.00 255.50 C214.80 254.03 215.27 252.42 215.80 250.50 C216.33 248.58 216.55 246.98 217.20 244.00 C217.85 241.02 218.97 235.77 219.70 232.60 C220.43 229.43 220.98 228.77 221.60 225.00 C222.22 221.23 222.83 215.00 223.40 210.00 C223.97 205.00 224.43 200.00 225.00 195.00 C225.57 190.00 226.05 185.83 226.80 180.00 C227.55 174.17 228.48 166.75 229.50 160.00 C230.52 153.25 231.83 145.33 232.90 139.50 C233.97 133.67 235.05 129.43 235.90 125.00 C236.75 120.57 237.17 117.07 238.00 112.90 C238.83 108.73 240.07 102.98 240.90 100.00 C241.73 97.02 242.30 96.43 243.00 95.00 C243.70 93.57 244.03 92.68 245.10 91.40 C246.17 90.12 247.73 88.28 249.40 87.30 C251.07 86.32 253.35 85.85 255.10 85.50 C256.85 85.15 258.25 85.37 259.90 85.20 C261.55 85.03 263.32 84.85 265.00 84.50 C266.68 84.15 267.85 83.65 270.00 83.10 C272.15 82.55 275.25 81.92 277.90 81.20 C280.55 80.48 283.25 79.35 285.90 78.80 C288.55 78.25 291.68 77.92 293.80 77.90 C295.92 77.88 296.75 77.88 298.60 78.70 C300.45 79.52 302.78 81.93 304.90 82.80 C307.02 83.67 308.78 83.65 311.30 83.90 C313.82 84.15 316.73 84.00 320.00 84.30 C323.27 84.60 327.77 85.07 330.90 85.70 C334.03 86.33 336.17 87.25 338.80 88.10 C341.43 88.95 344.58 90.00 346.70 90.80 C348.82 91.60 350.03 91.95 351.50 92.90 C352.97 93.85 354.23 94.67 355.50 96.50 C356.77 98.33 357.87 101.25 359.10 103.90 C360.33 106.55 361.63 109.07 362.90 112.40 C364.17 115.73 365.43 119.75 366.70 123.90 C367.97 128.05 369.03 132.02 370.50 137.30 C371.97 142.58 373.98 149.12 375.50 155.60 C377.02 162.08 378.07 170.70 379.60 176.20 C381.13 181.70 383.22 185.88 384.70 188.60 C386.18 191.32 387.28 191.63 388.50 192.50 C389.72 193.37 390.83 193.72 392.00 193.80 C393.17 193.88 394.30 193.52 395.50 193.00 C396.70 192.48 397.95 191.78 399.20 190.70 C400.45 189.62 401.63 188.07 403.00 186.50 C404.37 184.93 405.77 183.87 407.40 181.30 C409.03 178.73 410.80 175.02 412.80 171.10 C414.80 167.18 417.18 162.25 419.40 157.80 C421.62 153.35 423.87 148.85 426.10 144.40 C428.33 139.95 431.22 133.97 432.80 131.10 C434.38 128.23 434.22 129.05 435.60 127.20 C436.98 125.35 439.25 121.75 441.10 120.00 C442.95 118.25 445.22 117.35 446.70 116.70 C448.18 116.05 448.90 116.10 450.00 116.10 C451.10 116.10 452.18 116.15 453.30 116.70 C454.42 117.25 455.58 118.02 456.70 119.40 C457.82 120.78 459.08 123.33 460.00 125.00 C460.92 126.67 461.32 127.23 462.20 129.40 C463.08 131.57 464.33 135.07 465.30 138.00 C466.27 140.93 467.10 144.03 468.00 147.00 C468.90 149.97 469.60 151.37 470.70 155.80 C471.80 160.23 473.22 166.23 474.60 173.60 C475.98 180.97 477.53 190.93 479.00 200.00 C480.47 209.07 482.67 223.33 483.40 228.00" fill="none" stroke="#4DBEEE" stroke-width="1.8" stroke-linejoin="round" stroke-linecap="round"/>
<line x1="101" y1="35.10" x2="115.5" y2="35.10" stroke="#0072BD" stroke-width="1.6"/>
<text x="116.4" y="39.00" font-family="DejaVu Sans, sans-serif" stroke="#262626" stroke-width="0.35" font-size="10.6" fill="#262626" textLength="27.50" lengthAdjust="spacingAndGlyphs">Green</text>
<g filter="url(#bl2)"><circle cx="81.8" cy="35.3" r="9.8" fill="url(#t0)"/>
<ellipse cx="82.7" cy="34.4" rx="1.4" ry="1.1" fill="#fff" opacity="0.75"/></g>
<line x1="101" y1="60.00" x2="115.5" y2="60.00" stroke="#D95319" stroke-width="1.6"/>
<text x="116.4" y="63.90" font-family="DejaVu Sans, sans-serif" stroke="#262626" stroke-width="0.35" font-size="10.6" fill="#262626" textLength="35.00" lengthAdjust="spacingAndGlyphs">Breaker</text>
<g filter="url(#bl2)"><circle cx="81.1" cy="60.3" r="10.1" fill="url(#t1)"/>
<ellipse cx="80.4" cy="59.0" rx="1.4" ry="1.1" fill="#fff" opacity="0.75"/></g>
<line x1="101" y1="84.90" x2="115.5" y2="84.90" stroke="#EDB120" stroke-width="1.6"/>
<text x="116.4" y="88.80" font-family="DejaVu Sans, sans-serif" stroke="#262626" stroke-width="0.35" font-size="10.6" fill="#262626" textLength="33.40" lengthAdjust="spacingAndGlyphs">Turning</text>
<g filter="url(#bl2)"><circle cx="80.2" cy="85.6" r="10.3" fill="url(#t2)"/>
<ellipse cx="79.3" cy="83.6" rx="1.4" ry="1.1" fill="#fff" opacity="0.75"/></g>
<line x1="101" y1="109.80" x2="115.5" y2="109.80" stroke="#7E2F8E" stroke-width="1.6"/>
<text x="116.4" y="113.70" font-family="DejaVu Sans, sans-serif" stroke="#262626" stroke-width="0.35" font-size="10.6" fill="#262626" textLength="19.00" lengthAdjust="spacingAndGlyphs">Pink</text>
<g filter="url(#bl2)"><circle cx="80.2" cy="110.4" r="10.4" fill="url(#t3)"/>
<ellipse cx="81.1" cy="107.6" rx="1.4" ry="1.1" fill="#fff" opacity="0.75"/></g>
<line x1="101" y1="134.70" x2="115.5" y2="134.70" stroke="#77AC30" stroke-width="1.6"/>
<text x="116.4" y="138.60" font-family="DejaVu Sans, sans-serif" stroke="#262626" stroke-width="0.35" font-size="10.6" fill="#262626" textLength="40.80" lengthAdjust="spacingAndGlyphs">Light red</text>
<g filter="url(#bl2)"><circle cx="80.5" cy="135.6" r="10.3" fill="url(#t4)"/>
<ellipse cx="80.2" cy="133.6" rx="1.4" ry="1.1" fill="#fff" opacity="0.75"/></g>
<line x1="101" y1="159.60" x2="115.5" y2="159.60" stroke="#4DBEEE" stroke-width="1.6"/>
<text x="116.4" y="163.50" font-family="DejaVu Sans, sans-serif" stroke="#262626" stroke-width="0.35" font-size="10.6" fill="#262626" textLength="41.00" lengthAdjust="spacingAndGlyphs">Deep red</text>
<g filter="url(#bl2)"><circle cx="80.2" cy="160.2" r="10.5" fill="url(#t5)"/>
<ellipse cx="78.9" cy="158.0" rx="1.4" ry="1.1" fill="#fff" opacity="0.75"/></g>
</svg>
</body></html>
